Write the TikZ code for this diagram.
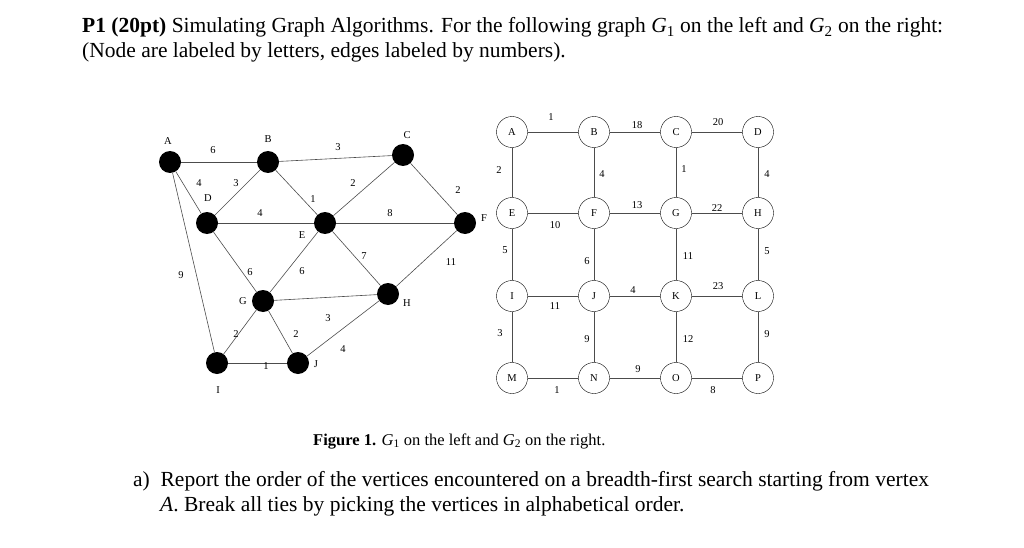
\documentclass[tikz,border=0pt]{standalone}
\usepackage{fontspec}
\setmainfont{Liberation Serif}
\begin{document}
\begin{tikzpicture}[x=1pt,y=-1pt,
  dot/.style={circle,fill=black,minimum size=22pt,inner sep=0pt},
  rn/.style={circle,draw,minimum size=31pt,inner sep=0pt,font=\fontsize{10.5}{12}\selectfont},
  lb/.style={font=\fontsize{10.5}{12}\selectfont,inner sep=0pt},
  ed/.style={draw=black!70,line width=0.6pt},
  big/.style={font=\fontsize{21.5}{25}\selectfont,anchor=base west,inner sep=0pt}]
\useasboundingbox (0,0) rectangle (1024,548);
% text
\node[big] (t1) at (82,33) {\textbf{P1 (20pt)} Simulating Graph Algorithms. For the following graph \textit{G}\textsubscript{1} on the left and \textit{G}\textsubscript{2} on the right:};
\node[big] (t2) at (82,58) {(Node are labeled by letters, edges labeled by numbers).};
\node[font=\fontsize{16.5}{19}\selectfont,anchor=base west,inner sep=0pt] (cap) at (313,445) {\textbf{Figure 1.} \textit{G}\textsubscript{1} on the left and \textit{G}\textsubscript{2} on the right.};
\node[big] (a1) at (133,486) {a)\ \ Report the order of the vertices encountered on a breadth-first search starting from vertex};
\node[big] (a2) at (160,511) {\textit{A}. Break all ties by picking the vertices in alphabetical order.};
% left graph
\node[dot] (A) at (170,162) {};
\node[dot] (B) at (268,162) {};
\node[dot] (C) at (403,155) {};
\node[dot] (D) at (207,223) {};
\node[dot] (E) at (325,223) {};
\node[dot] (F) at (465,223) {};
\node[dot] (G) at (263,301) {};
\node[dot] (H) at (388,294) {};
\node[dot] (I) at (217,363) {};
\node[dot] (J) at (298,363) {};
\foreach \n/\x/\y in {A/168/141,B/268/139,C/407/135,D/208/198,E/302/235,F/484/218,G/243/301,H/407/303,I/218/390,J/316/364}
  \node[lb] (l\n) at (\x,\y) {\n};
\foreach \a/\b in {A/B,B/C,A/D,B/D,B/E,C/E,C/F,D/E,E/F,A/I,D/G,E/G,E/H,F/H,G/H,G/I,G/J,I/J,H/J}
  \draw[ed] (\a) -- (\b);
\foreach \t/\x/\y [count=\i] in {6/213/150,3/338/147,4/199/183,3/236/183,1/313/199,2/353/183,2/458/190,4/260/213,8/390/213,9/181/275,6/250/272,6/302/271,7/364/256,11/451/262,3/328/318,2/236/334,2/296/334,4/343/349,1/266/366}
  \node[lb] (w\i) at (\x,\y) {\t};
% right graph
\foreach \n/\x/\y in {A/512/132,B/594/132,C/676/132,D/758/132,E/512/213,F/594/213,G/676/213,H/758/213,I/512/296,J/594/296,K/676/296,L/758/296,M/512/378,N/594/378,O/676/378,P/758/378}
  \node[rn] (r\n) at (\x,\y) {\n};
\foreach \a/\b in {A/B,B/C,C/D,E/F,F/G,G/H,I/J,J/K,K/L,M/N,N/O,O/P,A/E,E/I,I/M,B/F,F/J,J/N,C/G,G/K,K/O,D/H,H/L,L/P}
  \draw[ed] (r\a) -- (r\b);
\foreach \t/\x/\y [count=\i] in {1/551/117,18/637/125,20/718/122,2/499/170,4/602/174,1/684/169,4/767/174,13/637/205,10/555/225,22/717/208,5/505/250,6/587/261,11/688/256,5/767/251,11/555/306,4/633/290,23/718/286,3/500/333,9/587/339,12/688/339,9/767/334,1/557/390,9/638/369,8/713/390}
  \node[lb] (v\i) at (\x,\y) {\t};
\end{tikzpicture}
\end{document}
